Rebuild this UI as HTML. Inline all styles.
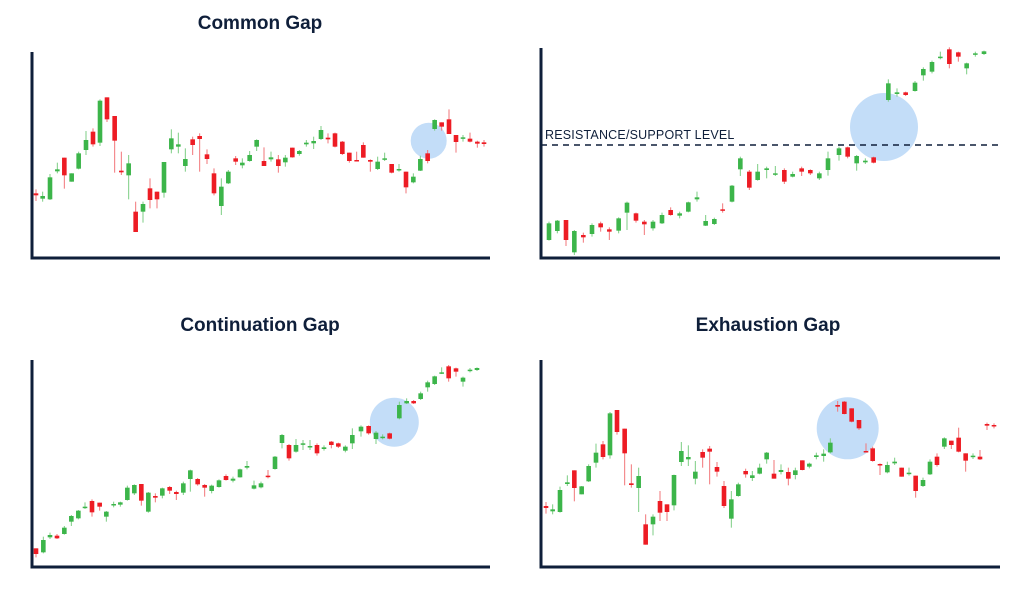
<!DOCTYPE html>
<html><head><meta charset="utf-8">
<style>
html,body{margin:0;padding:0;background:#fff;}
svg{display:block;}
.title{font-family:"Liberation Sans",sans-serif;font-weight:bold;font-size:19px;fill:#0f1f3a;}
.lvl{font-family:"Liberation Sans",sans-serif;font-size:12.5px;letter-spacing:0.2px;fill:#0f1f3a;}
</style></head>
<body>
<svg id="chart" width="1024" height="602" viewBox="0 0 1024 602" xmlns="http://www.w3.org/2000/svg">
<text class="title" x="260" y="29" text-anchor="middle">Common Gap</text>
<text class="title" x="260" y="331" text-anchor="middle">Continuation Gap</text>
<text class="title" x="768" y="331" text-anchor="middle">Exhaustion Gap</text>
<g id="p1"></g>
<g id="p2"></g>
<g id="p3"></g>
<g id="p4"></g>
</svg>
<script>
// Time positions (chart time units) and price levels (inverted chart units, larger = lower price)
const p1T=[18,38,60,82,103,125,146,168,189,210,231,254,274,296,317,339,360,381,402,424,445,466,488,509,531,552,574,595,617,637,659,680,702,723,745,766,787,808,829,851,873,894,915,937,958,980,1000,1021,1043,1064,1085,1107,1128,1150,1171,1193,1214,1235,1257,1278,1299,1320,1342,1362];
const p1Up=[0,1,1,1,0,1,1,1,0,1,0,0,0,1,0,1,0,0,1,1,1,1,0,0,0,0,1,1,0,1,1,1,0,1,0,1,0,1,1,1,1,0,0,0,0,0,0,0,1,1,0,1,0,1,1,0,1,0,0,0,1,0,0,0];
const p1BodyTop=[310,318,262,238,203,250,190,150,125,32,22,78,242,220,365,342,295,305,216,145,163,207,148,138,193,250,290,245,205,218,195,150,213,202,208,203,173,183,158,153,120,143,130,155,188,210,165,210,215,205,222,237,245,260,207,190,90,97,88,135,142,146,155,157];
const p1BodyBot=[316,326,328,244,256,275,236,180,163,158,88,152,247,256,426,365,330,328,308,178,170,228,165,147,207,310,348,280,215,226,213,170,228,208,228,217,202,192,163,160,147,148,170,192,213,212,203,215,237,208,248,240,292,277,242,213,117,110,132,156,146,155,161,162];
const p1High=[298,305,252,218,203,250,185,123,115,28,22,78,185,195,335,335,265,305,216,118,128,175,140,130,178,235,265,240,198,205,183,148,172,185,195,195,173,180,150,140,108,130,128,153,188,185,157,208,200,188,222,222,245,250,197,180,88,97,58,135,135,128,152,150];
const p1Low=[333,335,330,250,296,275,238,195,170,168,96,248,255,328,426,398,355,355,323,190,190,245,195,245,222,316,375,282,225,235,215,183,228,215,248,230,203,197,170,177,150,160,172,195,218,213,203,245,240,213,250,245,310,280,243,220,122,122,132,188,155,157,173,170];

const p2T=[27,52,78,103,130,156,182,208,236,261,288,313,339,366,392,419,445,471,497,523,548,576,601,628,653,680,706,733,758,785,811,838,864,897,923,950,976,1001,1045,1071,1097,1125,1150,1176,1201,1228,1255,1280,1306,1332];
const p2Up=[1,1,0,1,0,1,0,0,1,1,0,0,1,1,0,1,1,1,1,1,0,1,1,0,1,1,1,0,1,0,0,1,1,1,0,1,1,0,1,1,0,1,1,1,1,0,0,1,1,1];
const p2BodyTop=[550,542,540,573,585,555,550,568,535,488,520,545,545,525,510,520,487,472,543,537,508,437,355,395,395,385,400,390,402,385,390,400,355,325,322,348,362,352,130,157,157,128,87,66,50,28,37,70,40,34];
const p2BodyBot=[600,573,600,637,592,582,562,575,572,518,542,553,565,550,525,527,515,478,557,552,512,485,388,443,420,390,404,425,410,395,400,415,390,345,350,370,367,368,180,162,165,153,106,95,53,72,50,85,42,42];
const p2High=[545,540,540,570,578,550,545,562,532,485,518,540,540,518,502,515,485,455,525,533,490,435,350,390,372,380,378,385,395,380,388,395,335,320,320,345,355,350,118,145,155,123,82,62,35,22,35,68,35,32];
const p2Low=[602,580,618,645,608,590,575,600,580,570,548,585,572,552,527,535,517,485,558,555,518,487,408,450,422,415,408,432,412,408,405,420,407,362,355,392,372,370,185,170,168,155,122,100,58,85,65,103,50,45];

const p3T=[18,40,60,81,103,124,145,165,186,209,229,251,271,292,313,334,355,376,397,419,439,460,481,503,524,545,567,588,609,630,651,672,693,714,735,756,777,798,819,840,861,882,904,925,946,967,993,1016,1038,1058,1079,1108,1130,1151,1172,1193,1214,1235,1256,1278,1299,1320,1341];
const p3Up=[0,1,1,0,1,1,1,1,0,0,1,1,1,1,1,0,1,0,1,0,0,1,1,0,0,1,1,0,1,1,1,1,1,0,1,1,0,1,1,1,0,1,0,0,1,1,1,0,1,1,0,1,1,0,1,1,1,1,0,0,1,1,1];
const p3BodyTop=[565,540,525,527,503,468,452,440,423,428,455,432,427,383,375,372,398,408,385,381,396,370,331,357,375,377,361,348,356,328,318,376,370,347,290,225,255,255,250,258,255,262,245,250,260,225,200,198,218,230,220,135,123,123,100,67,49,37,19,25,53,29,24];
const p3BodyBot=[582,577,532,535,522,485,475,443,457,440,470,436,434,420,400,422,455,413,407,392,402,398,357,373,383,393,381,360,362,352,323,386,382,351,327,249,295,275,253,262,280,267,255,260,272,250,214,220,237,234,236,175,130,130,117,82,72,40,55,35,65,32,30];
const p3High=[565,530,518,522,498,465,450,427,418,428,453,425,425,377,373,372,396,400,383,378,392,365,329,354,372,374,358,343,350,326,303,362,365,330,288,222,252,237,240,240,250,256,243,248,256,205,196,196,213,223,218,125,115,120,95,62,47,22,15,23,50,24,22];
const p3Low=[592,580,537,537,524,498,478,447,470,452,485,442,440,422,405,437,458,427,415,402,420,405,395,377,410,400,383,362,367,353,328,388,385,355,329,265,302,278,270,270,287,272,265,264,277,267,230,224,252,238,238,178,132,132,120,95,75,42,65,50,80,37,33];

const p4T=[18,38,60,82,103,125,146,168,189,210,231,254,274,296,317,339,360,381,402,424,445,466,488,509,531,552,574,595,617,637,659,680,702,723,745,766,787,808,829,851,871,893,913,935,957,978,998,1020,1042,1064,1085,1107,1127,1149,1170,1191,1213,1234,1256,1277,1299,1320,1341,1362];
const p4Up=[0,1,1,1,0,1,1,1,0,1,0,0,0,1,0,1,0,0,1,1,1,1,0,0,0,0,1,1,0,1,1,1,0,1,0,1,0,1,1,1,1,0,0,0,0,0,0,0,1,1,0,1,0,1,1,0,1,0,0,0,1,0,0,0];
const p4BodyTop=[333,343,285,262,226,274,213,173,148,55,45,101,265,243,388,365,318,328,240,168,186,230,171,161,216,273,313,268,228,241,218,173,236,225,231,226,196,206,181,176,143,30,20,40,75,168,160,207,210,200,218,233,242,255,200,185,130,137,128,175,182,185,87,90];
const p4BodyBot=[339,349,351,267,279,298,259,203,186,181,111,175,270,279,449,388,353,351,331,201,193,251,188,170,230,333,371,303,238,249,236,193,251,231,251,240,225,215,186,183,172,35,57,80,100,172,198,211,232,205,245,237,288,273,238,210,155,150,170,197,186,193,92,94];
const p4High=[321,328,275,241,226,273,208,146,138,51,45,101,208,218,358,358,288,328,239,141,151,198,163,153,201,258,288,263,221,228,206,171,195,208,218,218,196,203,173,163,130,18,18,40,75,145,155,205,200,188,218,218,242,248,193,175,127,137,98,175,175,165,83,85];
const p4Low=[356,358,353,273,319,298,261,218,193,191,119,271,278,351,449,421,378,378,346,213,213,268,218,268,245,339,398,305,248,258,238,206,251,238,271,253,226,220,193,200,175,50,58,82,105,172,200,240,235,210,245,242,308,276,240,215,162,162,172,230,192,195,105,100];

const NS='http://www.w3.org/2000/svg';
function mk(tag,attrs,parent){const e=document.createElementNS(NS,tag);for(const k in attrs)e.setAttribute(k,attrs[k]);parent.appendChild(e);return e;}

function axes(g,x,yTop,yBot,xEnd){
  const ya=mk('line',{x1:x,y1:yTop,x2:x,y2:yBot+1.5,stroke:'#0f1f3a','stroke-width':3},g);
  
  
  const xa=mk('line',{x1:x-1.5,y1:yBot,x2:xEnd,y2:yBot,stroke:'#0f1f3a','stroke-width':3},g);
  
  
}
function circle(g,cx,cy,r){
  const c=mk('circle',{cx:cx,cy:cy,r:r,fill:'#c3ddf8'},g);
  
  
}
function candles(g,x0,y0,T,Up,BT,BB,H,L){
  const xs=t=>x0+t/3, ys=v=>y0+v/3;
  for(let i=0;i<T.length;i++){
    const col=Up[i]?'#3cb54a':'#ed1c24', wc=Up[i]?'#7ccd84':'#f2767a';
    const x=xs(T[i]);
    const grp=mk('g',{},g);
    
    
    mk('line',{x1:x,x2:x,y1:ys(H[i]),y2:ys(L[i]),stroke:wc,'stroke-width':1},grp);
    const top=ys(BT[i]),h=Math.max(1.5,ys(BB[i])-top);
    mk('rect',{x:x-2.3,y:top,width:4.6,height:h,fill:col},grp);
  }
}
const g1=document.getElementById('p1'),g2=document.getElementById('p2'),g3=document.getElementById('p3'),g4=document.getElementById('p4');
axes(g1,32,52,258,490);
axes(g2,541,48,258,1000);
axes(g3,32,360,567,490);
axes(g4,541,360,567,1000);
circle(g1,428.7,140.7,18);
circle(g2,884,127,34);
circle(g3,394.3,422.3,24.5);
circle(g4,847.7,428.3,31);
const dl=mk('line',{x1:541,y1:145,x2:1000,y2:145,stroke:'#0f1f3a','stroke-width':1.5,'stroke-dasharray':'6,5'},g2);


const lt=mk('text',{x:545,y:139,class:'lvl'},g2);
lt.textContent='RESISTANCE/SUPPORT LEVEL';


candles(g1,30,90,p1T,p1Up,p1BodyTop,p1BodyBot,p1High,p1Low);
candles(g2,540,40,p2T,p2Up,p2BodyTop,p2BodyBot,p2High,p2Low);
candles(g3,30,360,p3T,p3Up,p3BodyTop,p3BodyBot,p3High,p3Low);
candles(g4,540,395,p4T,p4Up,p4BodyTop,p4BodyBot,p4High,p4Low);
</script>
</body></html>
